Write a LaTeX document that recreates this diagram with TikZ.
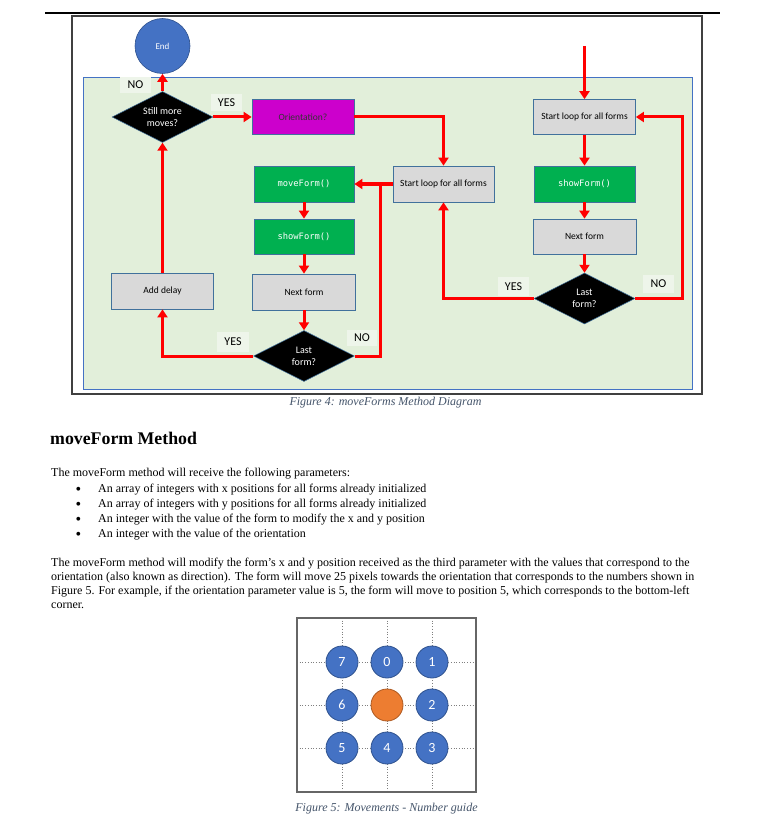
\documentclass[tikz,border=0pt]{standalone}
\usepackage{fontspec}
\setmainfont{Liberation Serif}
\newfontfamily\calfont{Carlito}
\newfontfamily\codefont{DejaVu Sans Mono}
\usetikzlibrary{arrows.meta,shapes.geometric}
\definecolor{panelfill}{HTML}{E2EFDA}
\definecolor{panelborder}{HTML}{4472C4}
\definecolor{boxborder}{HTML}{41719C}
\definecolor{lgray}{HTML}{D9D9D9}
\definecolor{fgreen}{HTML}{00B050}
\definecolor{fmag}{HTML}{CC00CC}
\definecolor{fblue}{HTML}{4472C4}
\definecolor{fblueb}{HTML}{2F528F}
\definecolor{forange}{HTML}{ED7D31}
\definecolor{forangeb}{HTML}{AE5A21}
\definecolor{lblbg}{HTML}{EEF5EA}
\definecolor{capcol}{HTML}{44546A}
\definecolor{framecol}{HTML}{404040}
\definecolor{gridcol}{HTML}{7F7F7F}
\tikzset{
  fbox/.style={draw=boxborder, line width=0.8pt, minimum width=101pt, minimum height=36pt,
    inner sep=0pt, align=center, font=\calfont\fontsize{9.5}{11}\selectfont},
  graybox/.style={fbox, fill=lgray, text=black},
  greenbox/.style={fbox, fill=fgreen, text=white, font=\codefont\fontsize{8.8}{11}\selectfont},
  magbox/.style={fbox, fill=fmag, text=black!80},
  dia/.style={diamond, aspect=2, fill=black, draw=boxborder, line width=0.5pt, text=white,
    minimum width=101pt, minimum height=51pt, inner sep=0pt, align=center,
    font=\calfont\fontsize{10}{11.8}\selectfont},
  lbl/.style={fill=lblbg, minimum width=31pt, minimum height=17pt, inner sep=0pt,
    font=\calfont\fontsize{12}{12}\selectfont},
  flow/.style={red, line width=3pt, -{Triangle[length=8pt,width=10pt]}},
  redline/.style={red, line width=3pt},
  bodytxt/.style={anchor=base west, inner sep=0pt, font=\fontsize{12}{14}\selectfont},
  bul/.style={inner sep=0pt, font=\fontsize{16}{16}\selectfont},
  captxt/.style={inner sep=0pt, text=capcol, font=\itshape\fontsize{12}{14}\selectfont},
  ball/.style={circle, fill=fblue, draw=fblueb, line width=0.8pt, minimum size=32pt, inner sep=0pt,
    text=white, font=\calfont\fontsize{14}{16}\selectfont},
  gridline/.style={gridcol, line width=0.7pt, dotted}
}
\begin{document}
\begin{tikzpicture}[x=1pt,y=-1pt]
\useasboundingbox (0,0) rectangle (763,837);
\fill[white] (0,0) rectangle (763,837);
% header rule
\draw[line width=1.5pt] (45,13) coordinate (hl) -- (720,13) coordinate (hr);
% figure 4 frame and panel
\draw[framecol, line width=1.5pt] (72,16) rectangle (702,394);
\draw[panelborder, fill=panelfill, line width=0.8pt] (83,77) rectangle (692,389);
% nodes
\node[circle, fill=fblue, draw=fblueb, line width=0.6pt, minimum size=55pt, inner sep=0pt,
  text=white, font=\calfont\fontsize{9}{10}\selectfont] (end) at (162.5,46) {End};
\node[dia] (still) at (162.5,117) {Still more\\moves?};
\node[magbox, minimum width=102pt, minimum height=35pt] (orient) at (303,117) {Orientation?};
\node[graybox, minimum width=102pt, minimum height=35pt] (startR) at (584.5,117) {Start loop for all forms};
\node[graybox] (startM) at (443.5,184) {Start loop for all forms};
\node[greenbox, minimum width=100pt] (moveF) at (304,184) {moveForm()};
\node[greenbox, minimum width=100pt, minimum height=35pt] (showL) at (304,236.5) {showForm()};
\node[graybox, minimum width=103pt] (nextL) at (304,292) {Next form};
\node[dia] (lastL) at (304,356) {Last\\form?};
\node[graybox, minimum width=102pt] (delay) at (162.5,291) {Add delay};
\node[greenbox] (showR) at (584.5,184) {showForm()};
\node[graybox, minimum width=103pt, minimum height=35pt] (nextR) at (584.5,236.5) {Next form};
\node[dia] (lastR) at (584.5,298.5) {Last\\form?};
% labels
\node[lbl, minimum height=16pt] (no1) at (135.5,85) {NO};
\node[lbl] (yes1) at (226.5,103) {YES};
\node[lbl, minimum height=19pt] (yes2) at (513.5,286.5) {YES};
\node[lbl, minimum height=18pt] (no2) at (658.5,284) {NO};
\node[lbl, minimum height=20pt, minimum width=32pt] (yes3) at (233,342) {YES};
\node[lbl, minimum height=16pt, minimum width=30pt] (no3) at (362,338) {NO};
% helper coordinates
\coordinate (topin) at (584.5,46);
\coordinate (rcorner) at (682,298.5);
\coordinate (junc) at (380,184);
% connectors
\draw[flow] (still.north) -- (end.south);
\draw[flow] (still.east) -- (orient.west);
\draw[flow] (orient.east) -| (startM.north);
\draw[flow] (topin) -- (startR.north);
\draw[flow] (startR.south) -- (showR.north);
\draw[flow] (showR.south) -- (nextR.north);
\draw[flow] (nextR.south) -- (lastR.north);
\draw[flow] (lastR.east) -- (rcorner) |- (startR.east);
\draw[flow] (lastR.west) -| (startM.south);
\draw[flow] (startM.west) -- (moveF.east);
\draw[redline] (lastL.east) -| (junc);
\draw[flow] (moveF.south) -- (showL.north);
\draw[flow] (showL.south) -- (nextL.north);
\draw[flow] (nextL.south) -- (lastL.north);
\draw[flow] (lastL.west) -| (delay.south);
\draw[flow] (delay.north) -- (still.south);
% caption 4
\node[captxt] (cap4) at (385.5,403) {Figure 4: moveForms Method Diagram};
% text section
\node[anchor=base west, inner sep=0pt, font=\bfseries\fontsize{17.8}{20}\selectfont] (head) at (50,444) {moveForm Method};
\node[bodytxt] (p0) at (51,476) {The moveForm method will receive the following parameters:};
\node[bul] (b1) at (78.5,491) {•};
\node[bodytxt] (t1) at (98,492) {An array of integers with x positions for all forms already initialized};
\node[bul] (b2) at (78.5,506) {•};
\node[bodytxt] (t2) at (98,507) {An array of integers with y positions for all forms already initialized};
\node[bul] (b3) at (78.5,521) {•};
\node[bodytxt] (t3) at (98,522) {An integer with the value of the form to modify the x and y position};
\node[bul] (b4) at (78.5,536) {•};
\node[bodytxt] (t4) at (98,537) {An integer with the value of the orientation};
\node[bodytxt] (l1) at (51,566) {The moveForm method will modify the form's x and y position received as the third parameter with the values that correspond to the};
\node[bodytxt] (l2) at (51,580) {orientation (also known as direction). The form will move 25 pixels towards the orientation that corresponds to the numbers shown in};
\node[bodytxt] (l3) at (51,594) {Figure 5. For example, if the orientation parameter value is 5, the form will move to position 5, which corresponds to the bottom-left};
\node[bodytxt] (l4) at (51,608) {corner.};
% figure 5
\foreach \gx in {342,387,432} {\draw[gridline] (\gx,618) -- (\gx,792);}
\foreach \gy in {662,705,748} {\draw[gridline] (297,\gy) -- (476,\gy);}
\draw[gray!80!black, line width=1.3pt] (297,618) rectangle (476,792);
\node[ball] (n7) at (342,662) {7};
\node[ball] (n0) at (387,662) {0};
\node[ball] (n1) at (432,662) {1};
\node[ball] (n6) at (342,705) {6};
\node[ball, fill=forange, draw=forangeb] (nc) at (387,705) {};
\node[ball] (n2) at (432,705) {2};
\node[ball] (n5) at (342,748) {5};
\node[ball] (n4) at (387,748) {4};
\node[ball] (n3) at (432,748) {3};
\node[captxt] (cap5) at (386.5,809) {Figure 5: Movements - Number guide};
\end{tikzpicture}
\end{document}
